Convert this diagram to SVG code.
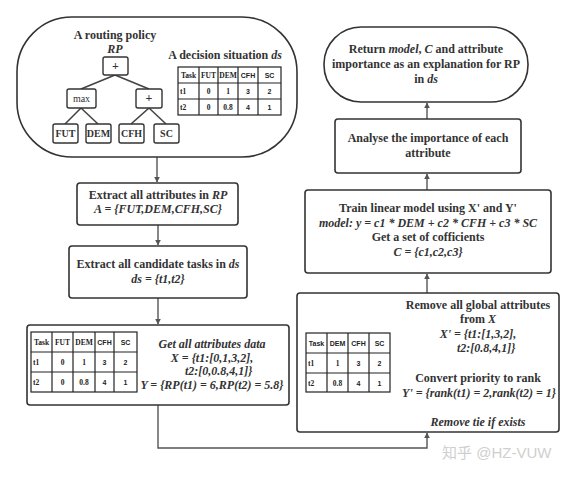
<svg xmlns="http://www.w3.org/2000/svg" width="580" height="477" viewBox="0 0 580 477">
<defs>
<marker id="ah" viewBox="0 0 10 10" refX="9" refY="5" markerWidth="6" markerHeight="7" orient="auto" markerUnits="userSpaceOnUse">
<path d="M0,0 L10,5 L0,10 z" fill="#555"/>
</marker>
<style>
.box{fill:#fff;stroke:#333;stroke-width:1.6}
.tb{fill:#fff;stroke:#333;stroke-width:1.4}
.t{font-family:"Liberation Serif",serif;font-weight:bold;font-size:12px;fill:#333;text-anchor:middle}
.i{font-style:italic}
.c{font-family:"Liberation Serif",serif;font-weight:bold;font-size:7.5px;fill:#222;text-anchor:middle}
.cs{font-family:"Liberation Sans",sans-serif;font-weight:bold;font-size:7px;fill:#222;text-anchor:middle}
.cl{text-anchor:start}
.con{fill:none;stroke:#555;stroke-width:1.4}
.tr{stroke:#444;stroke-width:1.6}
</style>
</defs>
<rect width="580" height="477" fill="#fff"/>

<g id="connectors">
<line class="con" x1="157" y1="157" x2="157" y2="182" marker-end="url(#ah)"/>
<line class="con" x1="158" y1="225" x2="158" y2="245" marker-end="url(#ah)"/>
<line class="con" x1="158" y1="298" x2="158" y2="324" marker-end="url(#ah)"/>
<polyline class="con" points="158,405 158,448 427,448 427,433" marker-end="url(#ah)"/>
<line class="con" x1="427" y1="293" x2="427" y2="274" marker-end="url(#ah)"/>
<line class="con" x1="427" y1="190" x2="427" y2="174" marker-end="url(#ah)"/>
<line class="con" x1="427" y1="119" x2="427" y2="103" marker-end="url(#ah)"/>
</g>

<g id="policy">
<rect class="box" x="17" y="17" width="280" height="140" rx="55" ry="55"/>
<text class="t" x="115" y="39">A routing policy</text>
<text class="t i" x="115" y="53">RP</text>
<text class="t" x="225" y="59">A decision situation <tspan class="i">ds</tspan></text>
<g class="tr">
<line x1="115" y1="75" x2="81" y2="89"/>
<line x1="115" y1="75" x2="149" y2="89"/>
<line x1="81" y1="108" x2="65" y2="124"/>
<line x1="81" y1="108" x2="98" y2="124"/>
<line x1="149" y1="108" x2="131" y2="124"/>
<line x1="149" y1="108" x2="166" y2="124"/>
</g>
<rect class="tb" x="103" y="57" width="25" height="18" rx="2"/>
<text class="t" x="115.5" y="70">+</text>
<rect class="tb" x="67" y="89" width="29" height="19" rx="2"/>
<text class="t" x="81.5" y="102" style="font-weight:normal;font-size:10px">max</text>
<rect class="tb" x="136" y="89" width="26" height="19" rx="2"/>
<text class="t" x="149" y="102">+</text>
<rect class="tb" x="53" y="124" width="25" height="19" rx="2"/>
<text class="t" x="65.5" y="137" style="font-size:10px">FUT</text>
<rect class="tb" x="86" y="124" width="25" height="19" rx="2"/>
<text class="t" x="98.5" y="137" style="font-size:10px">DEM</text>
<rect class="tb" x="119" y="124" width="25" height="19" rx="2"/>
<text class="t" x="131.5" y="137" style="font-size:10px">CFH</text>
<rect class="tb" x="154" y="124" width="25" height="19" rx="2"/>
<text class="t" x="166.5" y="137" style="font-size:10px">SC</text>
<g fill="none" stroke="#222" stroke-width="1.2">
<rect x="178" y="67" width="103" height="48"/>
<line x1="178" y1="83" x2="281" y2="83"/>
<line x1="178" y1="99" x2="281" y2="99"/>
<line x1="199" y1="67" x2="199" y2="115"/>
<line x1="218" y1="67" x2="218" y2="115"/>
<line x1="238" y1="67" x2="238" y2="115"/>
<line x1="258" y1="67" x2="258" y2="115"/>
</g>
<text class="c" x="188.5" y="77.5">Task</text>
<text class="c" x="208.5" y="77.5">FUT</text>
<text class="c" x="228" y="77.5">DEM</text>
<text class="cs" x="248" y="77.5">CFH</text>
<text class="cs" x="269.5" y="77.5">SC</text>
<text class="c cl" x="180" y="93.5">t1</text>
<text class="c" x="208.5" y="93.5">0</text>
<text class="c" x="228" y="93.5">1</text>
<text class="cs" x="248" y="93.5">3</text>
<text class="cs" x="269.5" y="93.5">2</text>
<text class="c cl" x="180" y="109.5">t2</text>
<text class="c" x="208.5" y="109.5">0</text>
<text class="c" x="228" y="109.5">0.8</text>
<text class="cs" x="248" y="109.5">4</text>
<text class="cs" x="269.5" y="109.5">1</text>
</g>

<g id="extract-attributes">
<rect class="box" x="77" y="183" width="161" height="42" rx="3"/>
<text class="t" x="158" y="199">Extract all attributes in <tspan class="i">RP</tspan></text>
<text class="t i" x="158" y="213">A = {FUT,DEM,CFH,SC}</text>
</g>

<g id="extract-tasks">
<rect class="box" x="69" y="246" width="178" height="52" rx="3"/>
<text class="t" x="158" y="268">Extract all candidate tasks in <tspan class="i">ds</tspan></text>
<text class="t i" x="158" y="283">ds = {t1,t2}</text>
</g>

<g id="get-data">
<rect class="box" x="27" y="325" width="262" height="80" rx="3"/>
<g fill="none" stroke="#222" stroke-width="1.2">
<rect x="31" y="332" width="106" height="60"/>
<line x1="31" y1="352" x2="137" y2="352"/>
<line x1="31" y1="372" x2="137" y2="372"/>
<line x1="52" y1="332" x2="52" y2="392"/>
<line x1="73" y1="332" x2="73" y2="392"/>
<line x1="95" y1="332" x2="95" y2="392"/>
<line x1="114" y1="332" x2="114" y2="392"/>
</g>
<text class="c" x="41.5" y="344.5">Task</text>
<text class="c" x="62.5" y="344.5">FUT</text>
<text class="c" x="84" y="344.5">DEM</text>
<text class="cs" x="104.5" y="344.5">CFH</text>
<text class="cs" x="125.5" y="344.5">SC</text>
<text class="c cl" x="33" y="364.5">t1</text>
<text class="c" x="62.5" y="364.5">0</text>
<text class="c" x="84" y="364.5">1</text>
<text class="cs" x="104.5" y="364.5">3</text>
<text class="cs" x="125.5" y="364.5">2</text>
<text class="c cl" x="33" y="384.5">t2</text>
<text class="c" x="62.5" y="384.5">0</text>
<text class="c" x="84" y="384.5">0.8</text>
<text class="cs" x="104.5" y="384.5">4</text>
<text class="cs" x="125.5" y="384.5">1</text>
<text class="t i" x="212" y="348">Get all attributes data</text>
<text class="t i" x="212" y="362">X = {t1:[0,1,3,2],</text>
<text class="t i" x="185" y="375" style="text-anchor:start">t2:[0,0.8,4,1]}</text>
<text class="t i" x="212" y="389">Y = {RP(t1) = 6,RP(t2) = 5.8}</text>
</g>

<g id="remove">
<rect class="box" x="297" y="293" width="262" height="139" rx="3"/>
<g fill="none" stroke="#222" stroke-width="1.2">
<rect x="306" y="333" width="84" height="59"/>
<line x1="306" y1="353" x2="390" y2="353"/>
<line x1="306" y1="373" x2="390" y2="373"/>
<line x1="327" y1="333" x2="327" y2="392"/>
<line x1="348" y1="333" x2="348" y2="392"/>
<line x1="369" y1="333" x2="369" y2="392"/>
</g>
<text class="cs" x="316.5" y="345.5">Task</text>
<text class="cs" x="337.5" y="345.5">DEM</text>
<text class="cs" x="358.5" y="345.5">CFH</text>
<text class="cs" x="379.5" y="345.5">SC</text>
<text class="c cl" x="308" y="365.5">t1</text>
<text class="c" x="337.5" y="365.5">1</text>
<text class="cs" x="358.5" y="365.5">3</text>
<text class="cs" x="379.5" y="365.5">2</text>
<text class="c cl" x="308" y="385.5">t2</text>
<text class="c" x="337.5" y="385.5">0.8</text>
<text class="cs" x="358.5" y="385.5">4</text>
<text class="cs" x="379.5" y="385.5">1</text>
<text class="t" x="478" y="309">Remove all global attributes</text>
<text class="t" x="478" y="323">from <tspan class="i">X</tspan></text>
<text class="t i" x="478" y="338">X' = {t1:[1,3,2],</text>
<text class="t i" x="457" y="352" style="text-anchor:start">t2:[0.8,4,1]}</text>
<text class="t" x="478" y="382">Convert priority to rank</text>
<text class="t i" x="479" y="397">Y' = {rank(t1) = 2,rank(t2) = 1}</text>
<text class="t i" x="478" y="426">Remove tie if exists</text>
</g>

<g id="train">
<rect class="box" x="305" y="190" width="246" height="83" rx="3"/>
<text class="t" x="428" y="212">Train linear model using X' and Y'</text>
<text class="t i" x="428" y="227">model: y = c1 * DEM + c2 * CFH + c3 * SC</text>
<text class="t" x="428" y="241">Get a set of cofficients</text>
<text class="t i" x="428" y="256">C = {c1,c2,c3}</text>
</g>

<g id="analyse">
<rect class="box" x="335" y="119" width="186" height="54" rx="3"/>
<text class="t" x="428" y="142">Analyse the importance of each</text>
<text class="t" x="428" y="157">attribute</text>
</g>

<g id="return">
<rect class="box" x="324" y="27" width="204" height="75" rx="37" ry="37"/>
<text class="t" x="426" y="53">Return <tspan class="i">model</tspan>, <tspan class="i">C</tspan> and attribute</text>
<text class="t" x="426" y="68">importance as an explanation for RP</text>
<text class="t" x="426" y="83">in <tspan class="i">ds</tspan></text>
</g>

<text x="442" y="458" style="font-family:'Liberation Sans','Noto Sans CJK SC',sans-serif;font-size:15px;fill:#cfcfcf">知乎 @HZ-VUW</text>
</svg>
